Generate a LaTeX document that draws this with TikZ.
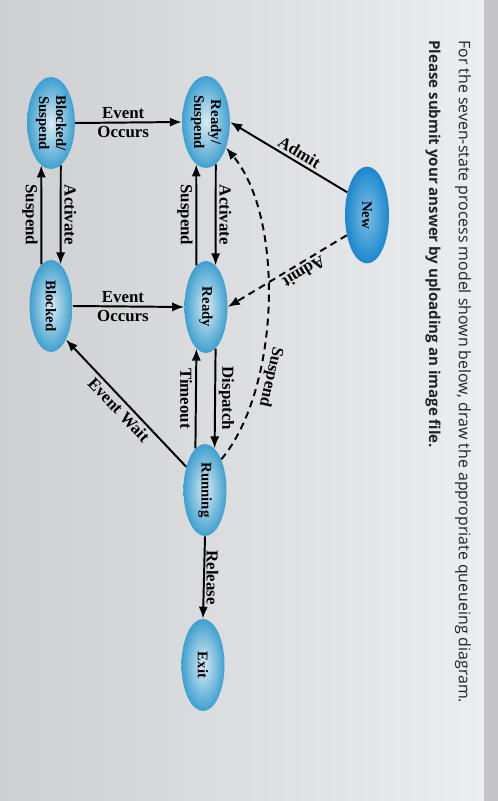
\documentclass[tikz,border=0pt]{standalone}
\usepackage{fontspec}
\setmainfont{Liberation Serif}
\newfontfamily\headfont{Open Sans}
\usepackage{graphicx}
\usetikzlibrary{shapes.geometric, arrows.meta}
\definecolor{mybgleft}{RGB}{206,207,209}
\definecolor{mybgright}{RGB}{236,237,238}
\definecolor{mybgdark}{RGB}{196,196,199}
\definecolor{myblue}{RGB}{62,160,208}
\definecolor{mylight}{RGB}{218,235,243}
\definecolor{mynewblue}{RGB}{28,135,205}
\definecolor{mynewlight}{RGB}{125,190,230}
\definecolor{mytext}{RGB}{35,35,38}
\newcommand{\vtxt}[1]{\rotatebox{-90}{#1}}
\newcommand{\vtwo}[2]{\rotatebox{-90}{\begin{tabular}{@{}c@{}}#1\\#2\end{tabular}}}

\tikzset{
    state/.style={ellipse, inner sep=0pt, minimum width=1.075cm, minimum height=2.3cm,
        inner color=mylight, outer color=myblue, font=\bfseries\fontsize{10.5}{12}\selectfont},
    lbl/.style={font=\bfseries\fontsize{12}{13}\selectfont, inner sep=2pt},
    arr/.style={line width=1.4pt, -{Latex[length=3mm, width=2.3mm]}},
    darr/.style={arr, dash pattern=on 5pt off 3.5pt},
}

\begin{document}
\begin{tikzpicture}[x=0.025cm, y=-0.025cm]
    \useasboundingbox (0, 0) rectangle (498, 801);
    % Screen background
    \shade[left color=mybgleft, right color=mybgright] (0, 0) rectangle (484, 801);
    \fill[mybgdark] (484, 0) rectangle (498, 801);

    % Question text
    \node[rotate=-90, anchor=west, inner sep=0pt, text=mytext, font=\headfont\fontsize{11.3}{13}\selectfont] (q1) at (463, 40)
        {For the seven-state process model shown below, draw the appropriate queueing diagram.};
    \node[rotate=-90, anchor=west, inner sep=0pt, text=mytext, font=\headfont\bfseries\fontsize{10.7}{13}\selectfont] (q2) at (433, 40)
        {Please submit your answer by uploading an image file.};

    % States
    \node[state, minimum width=1.1cm, minimum height=2.42cm, inner color=mynewlight, outer color=mynewblue] (New) at (367, 215) {\vtxt{New}};
    \node[state] (RS) at (206, 122) {\vtwo{Ready/}{Suspend}};
    \node[state] (R) at (206, 307) {\vtxt{Ready}};
    \node[state] (Run) at (205, 490) {\vtxt{Running}};
    \node[state] (Exit) at (203, 665) {\vtxt{Exit}};
    \node[state] (BS) at (51, 123) {\vtwo{Blocked/}{Suspend}};
    \node[state] (B) at (51, 306) {\vtxt{Blocked}};

    % Admit
    \draw[arr] (New.131) -- (RS.east) node[lbl, pos=.45, sloped, above] {Admit};
    \draw[darr] (New.-135) -- (R.east) node[lbl, pos=.4, sloped, allow upside down, above] {Admit};

    % Event occurs
    \draw[arr] (BS.east) -- (RS.west) node[lbl, pos=.45, above] {Event} node[lbl, pos=.45, below] {Occurs};
    \draw[arr] (B.east) -- (R.west) node[lbl, pos=.45, above] {Event} node[lbl, pos=.45, below] {Occurs};

    % Activate and suspend
    \draw[arr] (RS.-77) -- (R.77) node[lbl, midway, right] {\vtxt{Activate}};
    \draw[arr] (R.103) -- (RS.-103) node[lbl, midway, left] {\vtxt{Suspend}};
    \draw[arr] (BS.-77) -- (B.77) node[lbl, midway, right] {\vtxt{Activate}};
    \draw[arr] (B.103) -- (BS.-103) node[lbl, midway, left] {\vtxt{Suspend}};

    % Dispatch, timeout and release
    \draw[arr] (R.-77) -- (Run.77) node[lbl, midway, right] {\vtxt{Dispatch}};
    \draw[arr] (Run.103) -- (R.-103) node[lbl, midway, left] {\vtxt{Timeout}};
    \draw[arr] (Run.south) -- (Exit.north) node[lbl, midway, right, inner sep=1pt] {\vtxt{Release}};

    % Event wait and suspend from running
    \draw[arr] (Run.129) -- (B.-66) node[lbl, midway, sloped, below] {Event Wait};
    \draw[darr] (Run.62) to[out=50, in=-50, looseness=.75]
        node[lbl, pos=.3, rotate=-103, anchor=south] {Suspend} (RS.-52);
\end{tikzpicture}
\end{document}
